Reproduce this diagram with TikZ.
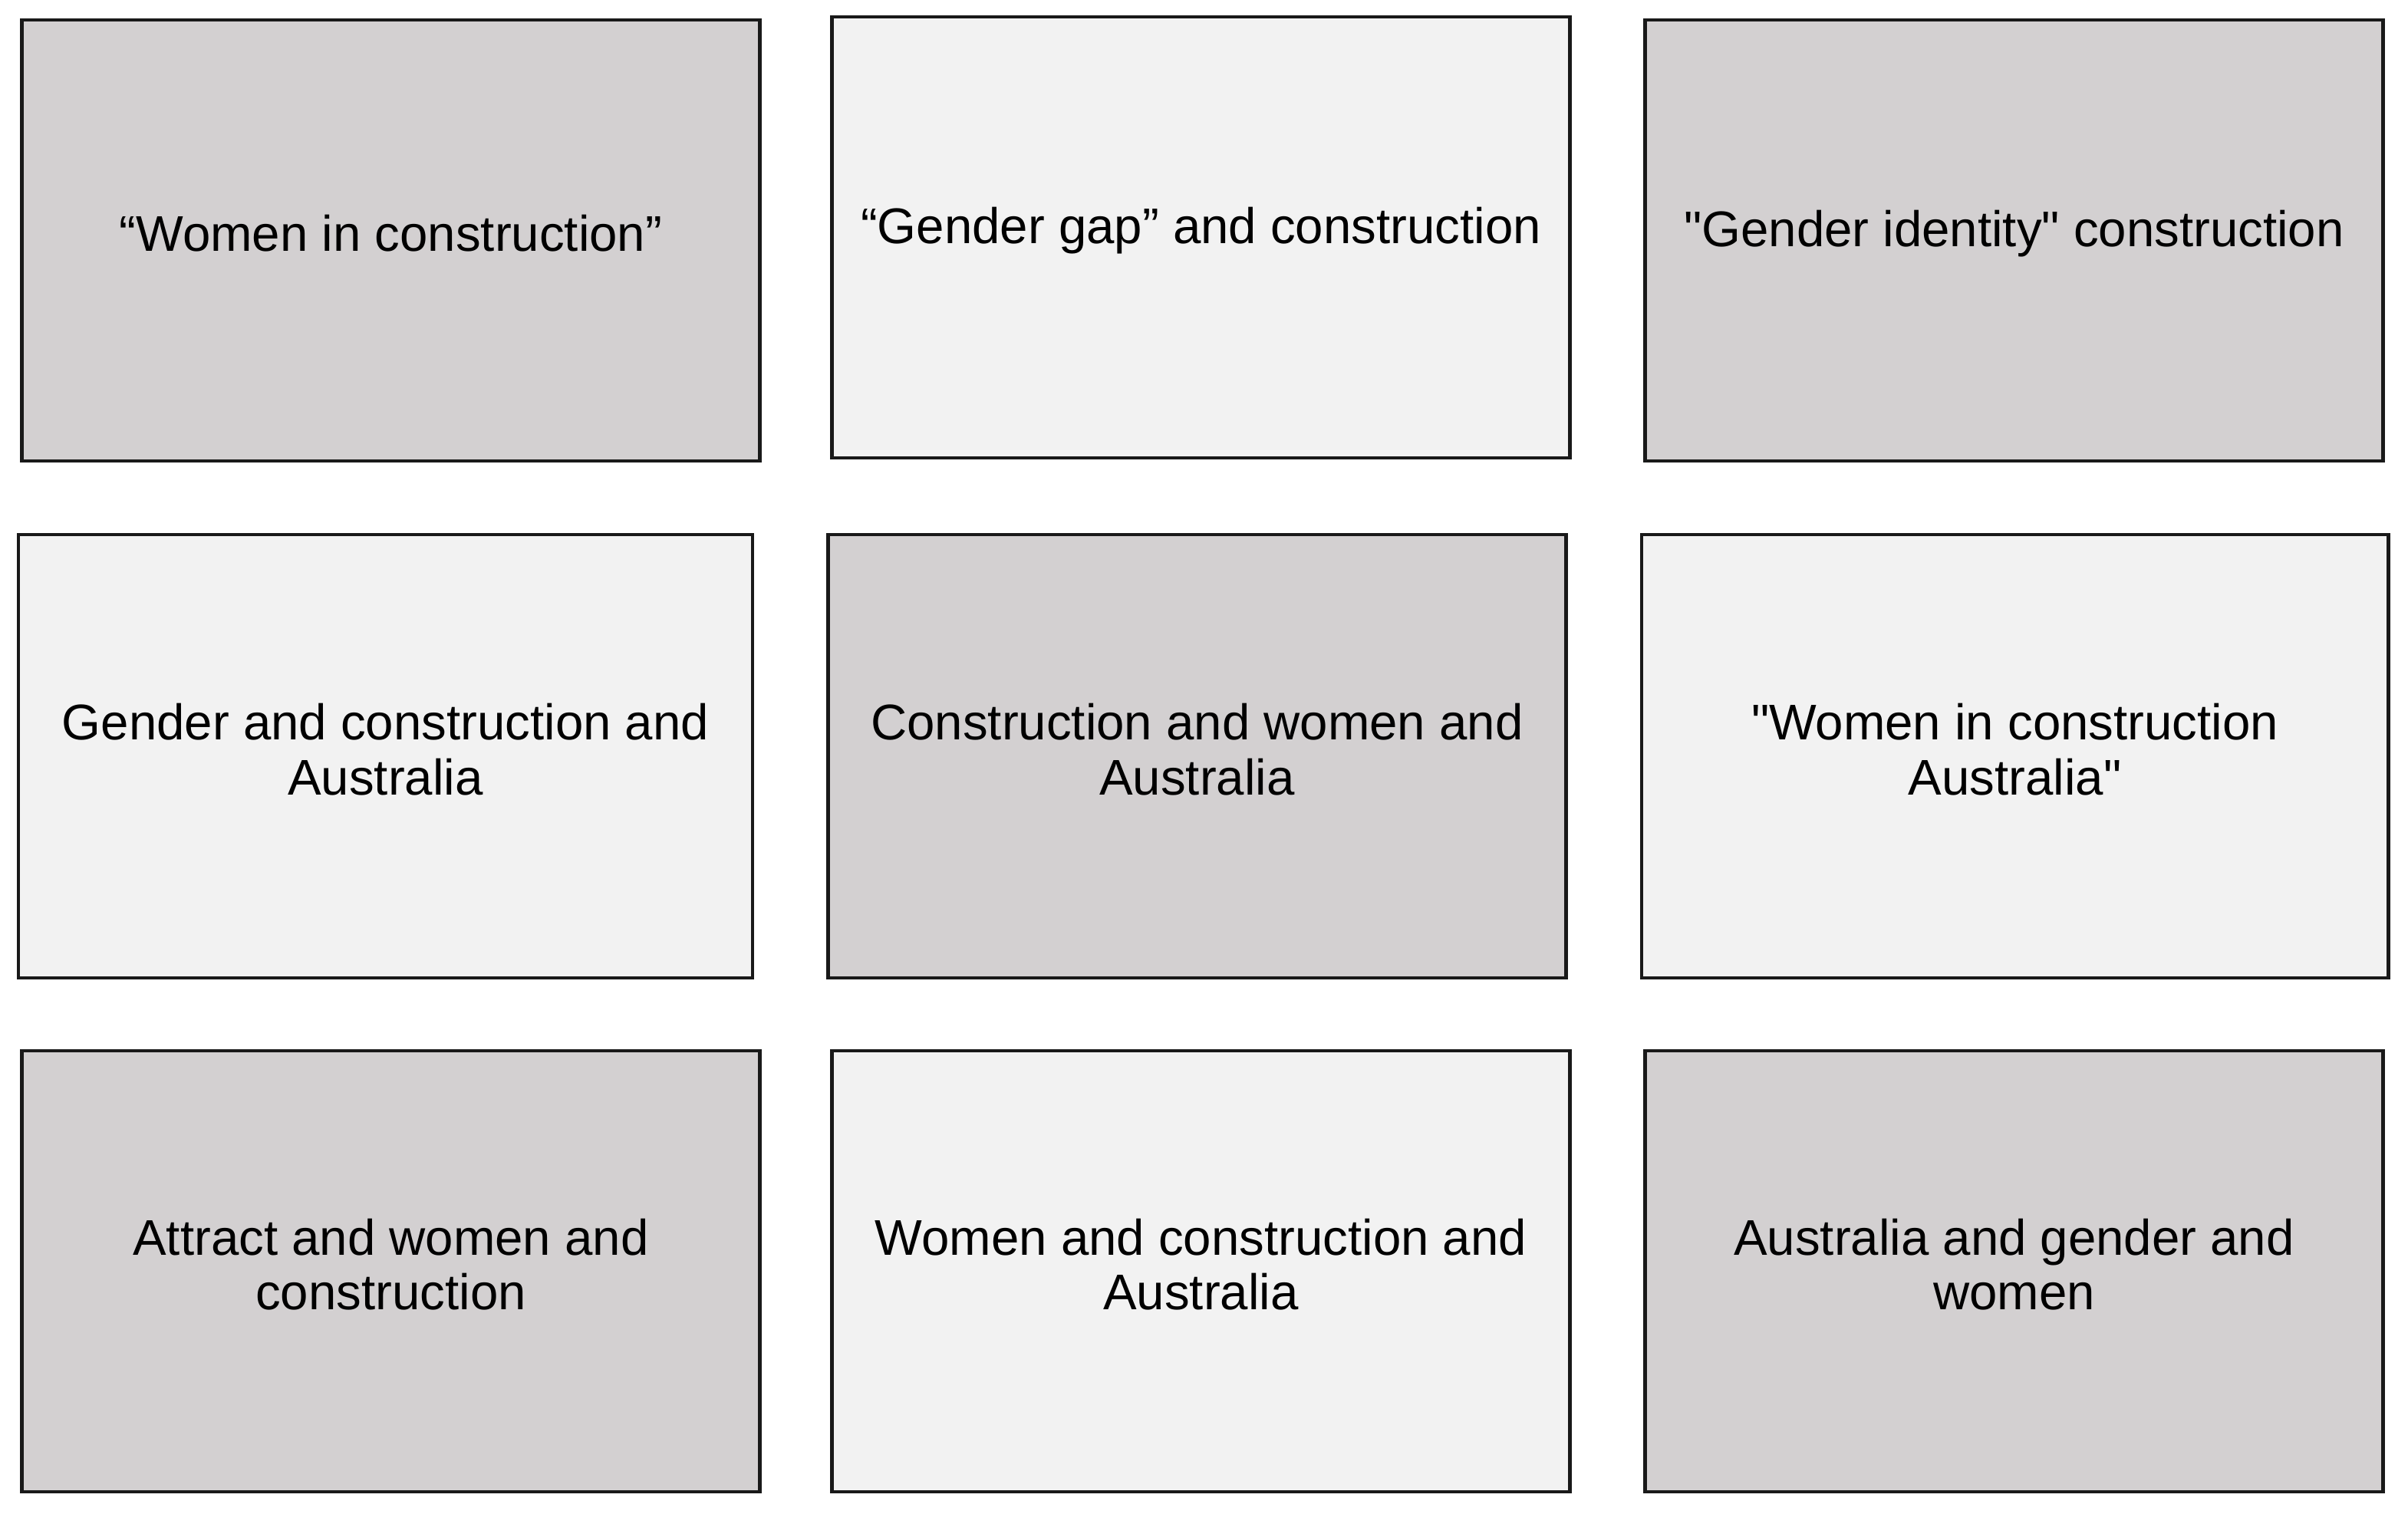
\documentclass[tikz,border=0pt]{standalone}
\usepackage{fontspec}
\setmainfont{Liberation Sans}
\definecolor{termdark}{RGB}{211,208,209}
\definecolor{termlight}{RGB}{242,242,242}
\begin{document}
\begin{tikzpicture}[
  term/.style={rectangle, draw=black!90, line width=1.4pt, minimum width=9.62cm, minimum height=5.75cm,
    inner sep=0pt, outer sep=0pt},
  darkterm/.style={term, fill=termdark},
  lightterm/.style={term, fill=termlight},
  termtext/.style={align=center, inner sep=0pt, yshift=0.09cm, font=\fontsize{18.6}{20.4}\selectfont}]
  \useasboundingbox (0,0) rectangle (31.39,19.86);
  % first row
  \node [darkterm]  (WomenCons)   at (5.095,16.725) {};
  \node [lightterm] (GenderGap)   at (15.655,16.765) {};
  \node [darkterm]  (GenderIdent) at (26.255,16.725) {};
  % second row
  \node [lightterm, minimum width=9.57cm, minimum height=5.78cm] (GenderConsAus) at (5.025,10.0) {};
  \node [darkterm, minimum height=5.78cm]  (ConsWomenAus)  at (15.605,10.0) {};
  \node [lightterm, minimum width=9.73cm, minimum height=5.78cm] (WomenConsAus) at (26.265,10.0) {};
  % third row
  \node [darkterm]  (AttractWomen)  at (5.095,3.285) {};
  \node [lightterm] (WomenConsAnd)  at (15.655,3.285) {};
  \node [darkterm]  (AusGenderWom)  at (26.255,3.285) {};
  % search terms
  \node [termtext] (WomenCons-t)     at (WomenCons)     {“Women in construction”};
  \node [termtext] (GenderGap-t)     at (GenderGap)     {“Gender gap” and construction};
  \node [termtext] (GenderIdent-t)   at (GenderIdent)   {\textquotedbl Gender identity\textquotedbl{} construction};
  \node [termtext] (GenderConsAus-t) at (GenderConsAus) {Gender and construction and\\Australia};
  \node [termtext] (ConsWomenAus-t)  at (ConsWomenAus)  {Construction and women and\\Australia};
  \node [termtext] (WomenConsAus-t)  at (WomenConsAus)  {\textquotedbl Women in construction\\Australia\textquotedbl};
  \node [termtext] (AttractWomen-t)  at (AttractWomen)  {Attract and women and\\construction};
  \node [termtext] (WomenConsAnd-t)  at (WomenConsAnd)  {Women and construction and\\Australia};
  \node [termtext] (AusGenderWom-t)  at (AusGenderWom)  {Australia and gender and\\women};
\end{tikzpicture}
\end{document}
